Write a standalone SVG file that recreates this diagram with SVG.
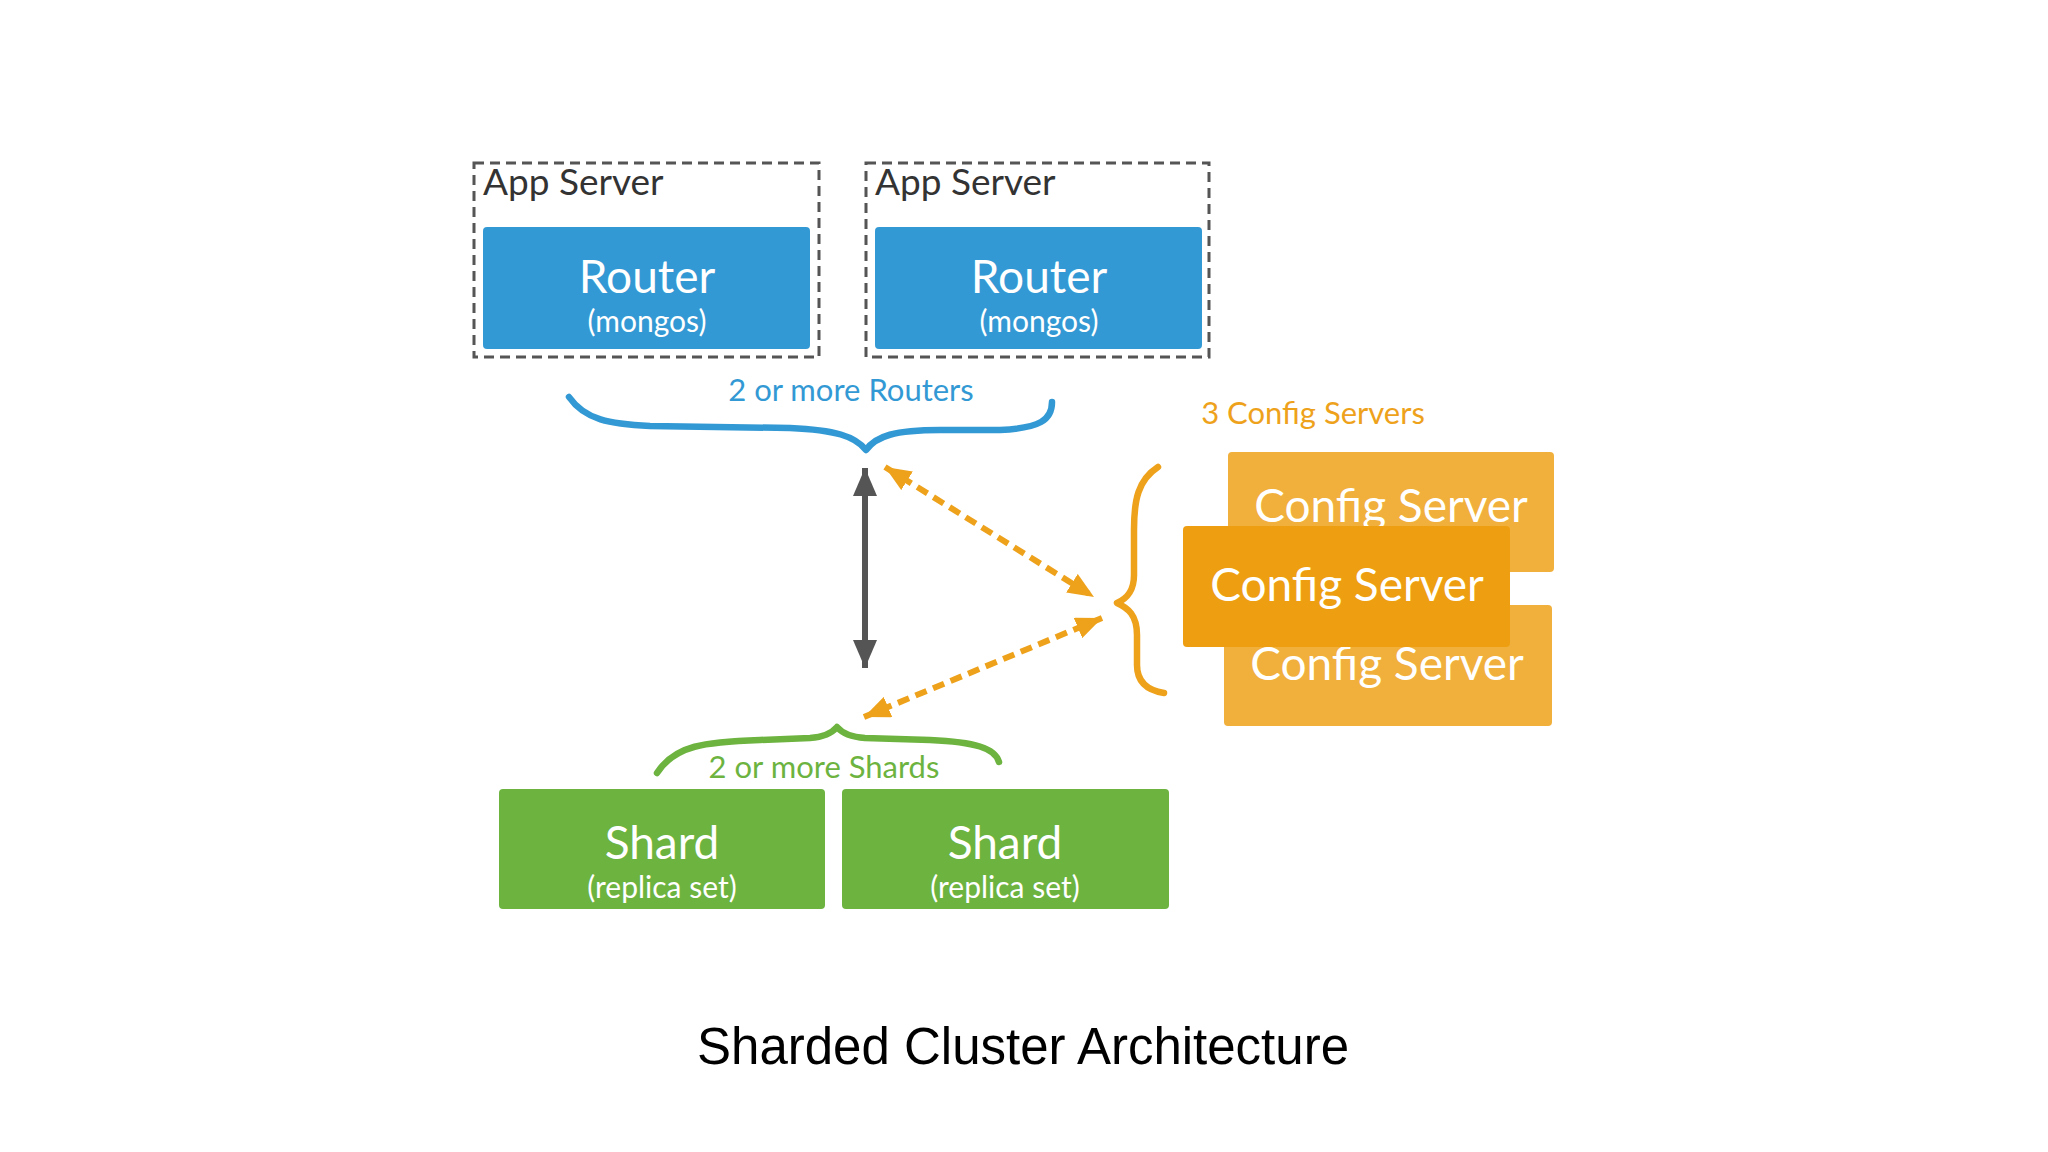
<svg xmlns="http://www.w3.org/2000/svg" width="2048" height="1152" viewBox="0 0 2048 1152">
<style>
.h{font-family:Lato,"Open Sans","DejaVu Sans",sans-serif}
.appbox{fill:none;stroke:#555;stroke-width:3;stroke-dasharray:10 6}
.apptxt{fill:#333;font-size:37px}
.router{fill:#3399d4}
.shard{fill:#6db33f}
.cfgback{fill:#f1b03b}
.cfgfront{fill:#ee9f11}
.big{fill:#fff;font-size:46px;text-anchor:middle}
.small{fill:#fff;font-size:30px;text-anchor:middle}
.brace{fill:none;stroke-width:6.5;stroke-linecap:round;stroke-linejoin:round}
.lbl{font-size:31px;text-anchor:middle}
</style>
<defs>
<marker id="gh" markerUnits="userSpaceOnUse" viewBox="0 0 28 24" refX="28" refY="12" markerWidth="28" markerHeight="24" orient="auto-start-reverse"><path d="M0,0 L28,12 L0,24 Z" fill="#555"/></marker>
<marker id="oh" markerUnits="userSpaceOnUse" viewBox="0 0 26 22" refX="26" refY="11" markerWidth="26" markerHeight="22" orient="auto-start-reverse"><path d="M0,0 L26,11 L0,22 Z" fill="#eea21c"/></marker>
</defs>
<rect width="2048" height="1152" fill="#fff"/>

<g id="app1">
<rect class="appbox" x="474" y="163" width="345" height="194"/>
<text class="h apptxt" x="483" y="195">App Server</text>
</g>
<g id="router1">
<rect class="router" x="483" y="227" width="327" height="122" rx="4"/>
<text class="h big" x="647" y="293">Router</text>
<text class="h small" x="647" y="332">(mongos)</text>
</g>
<g id="app2">
<rect class="appbox" x="866" y="163" width="343" height="194"/>
<text class="h apptxt" x="875" y="195">App Server</text>
</g>
<g id="router2">
<rect class="router" x="875" y="227" width="327" height="122" rx="4"/>
<text class="h big" x="1039" y="293">Router</text>
<text class="h small" x="1039" y="332">(mongos)</text>
</g>

<g id="routers-label">
<path class="brace" stroke="#3399d4" d="M569,397 C585,420 610,424 650,426 L790,428 C835,430 855,436 866,450 C876,436 895,430 940,430 L1000,430 C1040,428 1052,420 1052,402"/>
<text class="h lbl" fill="#3399d4" x="851" y="401">2 or more Routers</text>
</g>

<g id="config-label">
<text class="h lbl" fill="#eea21c" x="1313" y="424">3 Config Servers</text>
<path class="brace" stroke="#eea21c" d="M1158,467 C1138,480 1134,500 1134,530 L1134,575 C1134,590 1128,598 1117,603 C1128,608 1137,615 1137,635 L1137,665 C1137,680 1145,690 1164,693"/>
</g>

<g id="config1">
<rect class="cfgback" x="1228" y="452" width="326" height="120" rx="4"/>
<text class="h big" x="1391" y="522">Config Server</text>
</g>
<g id="config3">
<rect class="cfgback" x="1224" y="605" width="328" height="121" rx="4"/>
<text class="h big" x="1387" y="680">Config Server</text>
</g>
<g id="config2">
<rect class="cfgfront" x="1183" y="526" width="327" height="121" rx="4"/>
<text class="h big" x="1347" y="601">Config Server</text>
</g>

<g id="shards-label">
<path class="brace" stroke="#6db33f" d="M657,773 C675,745 705,742 760,740 L810,738 C825,737 832,733 837,727 C842,733 850,737 865,738 L930,740 C975,742 995,748 999,762"/>
<text class="h lbl" fill="#6db33f" x="824" y="778">2 or more Shards</text>
</g>
<g id="shard1">
<rect class="shard" x="499" y="789" width="326" height="120" rx="4"/>
<text class="h big" x="662" y="859">Shard</text>
<text class="h small" x="662" y="898">(replica set)</text>
</g>
<g id="shard2">
<rect class="shard" x="842" y="789" width="327" height="120" rx="4"/>
<text class="h big" x="1005" y="859">Shard</text>
<text class="h small" x="1005" y="898">(replica set)</text>
</g>

<g id="connectors">
<line x1="865" y1="468" x2="865" y2="668" stroke="#555" stroke-width="6" marker-start="url(#gh)" marker-end="url(#gh)"/>
<line x1="885" y1="467" x2="1094" y2="597" stroke="#eea21c" stroke-width="6" stroke-dasharray="12 7" marker-start="url(#oh)" marker-end="url(#oh)"/>
<line x1="1102" y1="618" x2="864" y2="717" stroke="#eea21c" stroke-width="6" stroke-dasharray="12 7" marker-start="url(#oh)" marker-end="url(#oh)"/>
</g>

<text id="title" x="1023" y="1064" font-family="'Liberation Sans',Arial,sans-serif" font-size="51" fill="#000" text-anchor="middle">Sharded Cluster Architecture</text>
</svg>
